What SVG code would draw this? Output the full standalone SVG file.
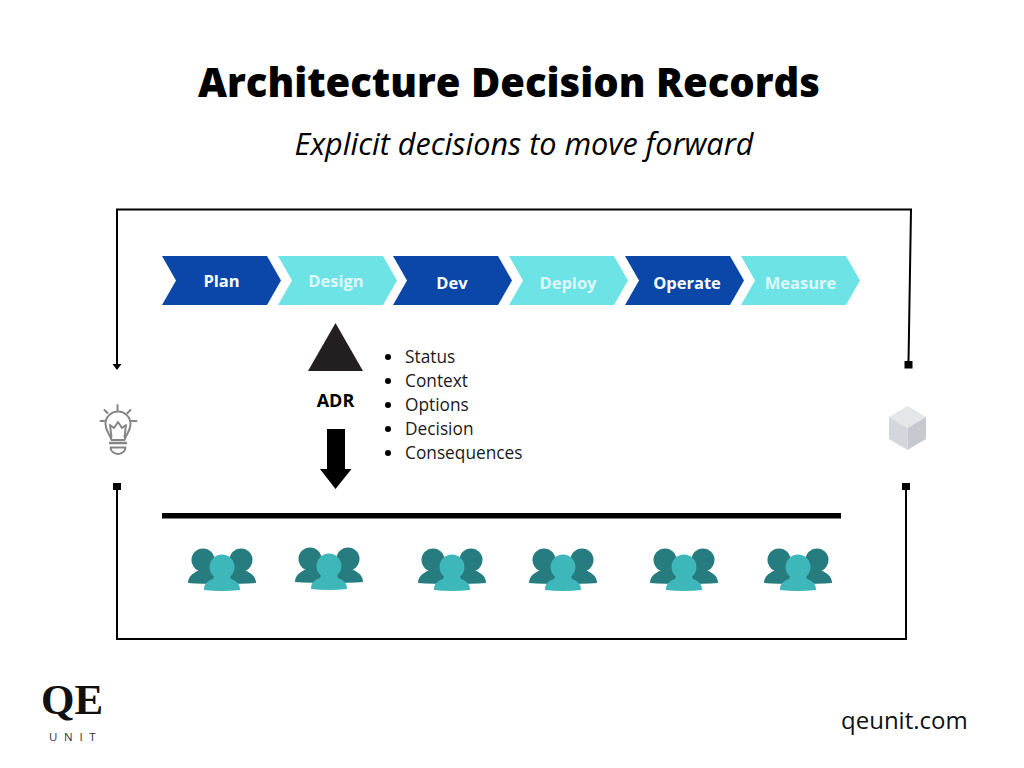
<svg xmlns="http://www.w3.org/2000/svg" width="1024" height="768" viewBox="0 0 1024 768">
<style>
text{font-family:"Open Sans","Noto Sans",sans-serif}
.title{font-size:40px;font-weight:800;fill:#000}
.sub{font-size:30.6px;font-style:italic;fill:#000}
.step{font-size:16.5px;font-weight:700;text-anchor:middle}
.w{fill:#fff}.lw{fill:#dff8f9}
.dark{fill:#0a47a9}.light{fill:#6ee3e6}
.list{font-size:17.3px;fill:#1a1a1a}
.line{fill:none;stroke:#000;stroke-width:2}
.back{fill:#267c7e}.front{fill:#3db7b9}
.bulb{fill:none;stroke:#858585;stroke-width:2;stroke-linecap:round;stroke-linejoin:round}
</style>
<defs>
<polygon id="chev" points="0,0 105,0 119,24.500 105,49 0,49 14,24.500"/>
<g id="people">
<circle cx="-19" cy="-18" r="11.500" class="back"/><circle cx="19" cy="-18" r="11.500" class="back"/>
<path class="back" d="M-34,5C-34,-2-28,-6-20,-9L20,-9C28,-6 34,-2 34,5Q20,6 0,6Q-20,6-34,5Z"/>
<circle cx="0" cy="-11" r="12.500" class="front"/>
<path class="front" d="M-8,-2L8,-2L9,1C14,3 18,5 18,12Q0,14-18,12C-18,5-14,3-9,1Z"/>
</g>
</defs>
<rect width="1024" height="768" fill="#fff"/>
<g id="title"><text class="title" x="509" y="97" text-anchor="middle">Architecture Decision Records</text></g>
<g id="subtitle"><text class="sub" x="524" y="155" text-anchor="middle">Explicit decisions to move forward</text></g>
<g id="connectors">
<path class="line" d="M117,365V209.500H911L908.500,362"/>
<path d="M112.500,364h9l-4.500,6z" fill="#000"/>
<rect x="904.500" y="361" width="8" height="7.500" fill="#000"/>
<path class="line" d="M117,486V639H906V486"/>
<rect x="113" y="483" width="8" height="7" fill="#000"/>
<rect x="902" y="483" width="8" height="7" fill="#000"/>
</g>
<g id="plan"><use href="#chev" x="162" y="256" class="dark"/><text class="step w" x="221.500" y="287">Plan</text></g>
<g id="design"><use href="#chev" x="278" y="256" class="light"/><text class="step lw" x="336" y="287">Design</text></g>
<g id="dev"><use href="#chev" x="393" y="256" class="dark"/><text class="step w" x="452" y="289">Dev</text></g>
<g id="deploy"><use href="#chev" x="509" y="256" class="light"/><text class="step lw" x="568" y="289">Deploy</text></g>
<g id="operate"><use href="#chev" x="625" y="256" class="dark"/><text class="step w" x="687" y="289">Operate</text></g>
<g id="measure"><use href="#chev" x="741" y="256" class="light"/><text class="step lw" x="800.500" y="289">Measure</text></g>
<g id="adr">
<polygon points="335.500,323 363,371 308,371" fill="#231f20"/>
<text x="335.500" y="407" text-anchor="middle" font-size="18" font-weight="700" fill="#000">ADR</text>
<polygon points="327,429 345,429 345,469 351.500,469 335.500,489 320,469 327,469" fill="#000"/>
</g>
<g id="adr-list">
<circle cx="388" cy="357" r="3" fill="#000"/><text x="405" y="363" class="list">Status</text>
<circle cx="388" cy="381" r="3" fill="#000"/><text x="405" y="387" class="list">Context</text>
<circle cx="388" cy="405" r="3" fill="#000"/><text x="405" y="411" class="list">Options</text>
<circle cx="388" cy="429" r="3" fill="#000"/><text x="405" y="435" class="list">Decision</text>
<circle cx="388" cy="453" r="3" fill="#000"/><text x="405" y="459" class="list">Consequences</text>
</g>
<g id="idea" class="bulb" transform="translate(-0.500,0)">
<path d="M112,440C110,433 106,431 106,424a12.500,12.500 0 0 1 25,0C131,431 127,433 125,440Z"/>
<path d="M112,437L110.500,425l4,3 4-6 4,6 4-3L125,437"/>
<path d="M110.500,443H126.500" stroke-width="2.500"/>
<path d="M111,447.500H126a7.500,6.500 0 0 1-15,0Z"/>
<path d="M118,405V410M101,421H105M132,421H137M105,410L108,413M131,410L128,413"/>
</g>
<g id="cube">
<polygon points="907.500,406 926,417 907.500,428 889,417" fill="#e4e6ea"/>
<polygon points="889,417 907.500,428 907.500,450 889,439" fill="#d3d6db"/>
<polygon points="926,417 907.500,428 907.500,450 926,439" fill="#c6cad0"/>
</g>
<g id="bar"><rect x="162" y="513" width="679" height="5.500" fill="#000"/></g>
<g id="team1"><use href="#people" x="222" y="578"/></g>
<g id="team2"><use href="#people" x="329" y="577"/></g>
<g id="team3"><use href="#people" x="452" y="578"/></g>
<g id="team4"><use href="#people" x="563" y="578"/></g>
<g id="team5"><use href="#people" x="684" y="578"/></g>
<g id="team6"><use href="#people" x="798" y="578"/></g>
<g id="logo">
<text x="41" y="714" font-size="43" font-weight="700" style="font-family:'Liberation Serif',serif" fill="#111">QE</text>
<text x="49" y="741" font-size="11.500" letter-spacing="6.700" fill="#333">UNIT</text>
</g>
<g id="site"><text x="841" y="729" font-size="24" fill="#111">qeunit.com</text></g>
</svg>
